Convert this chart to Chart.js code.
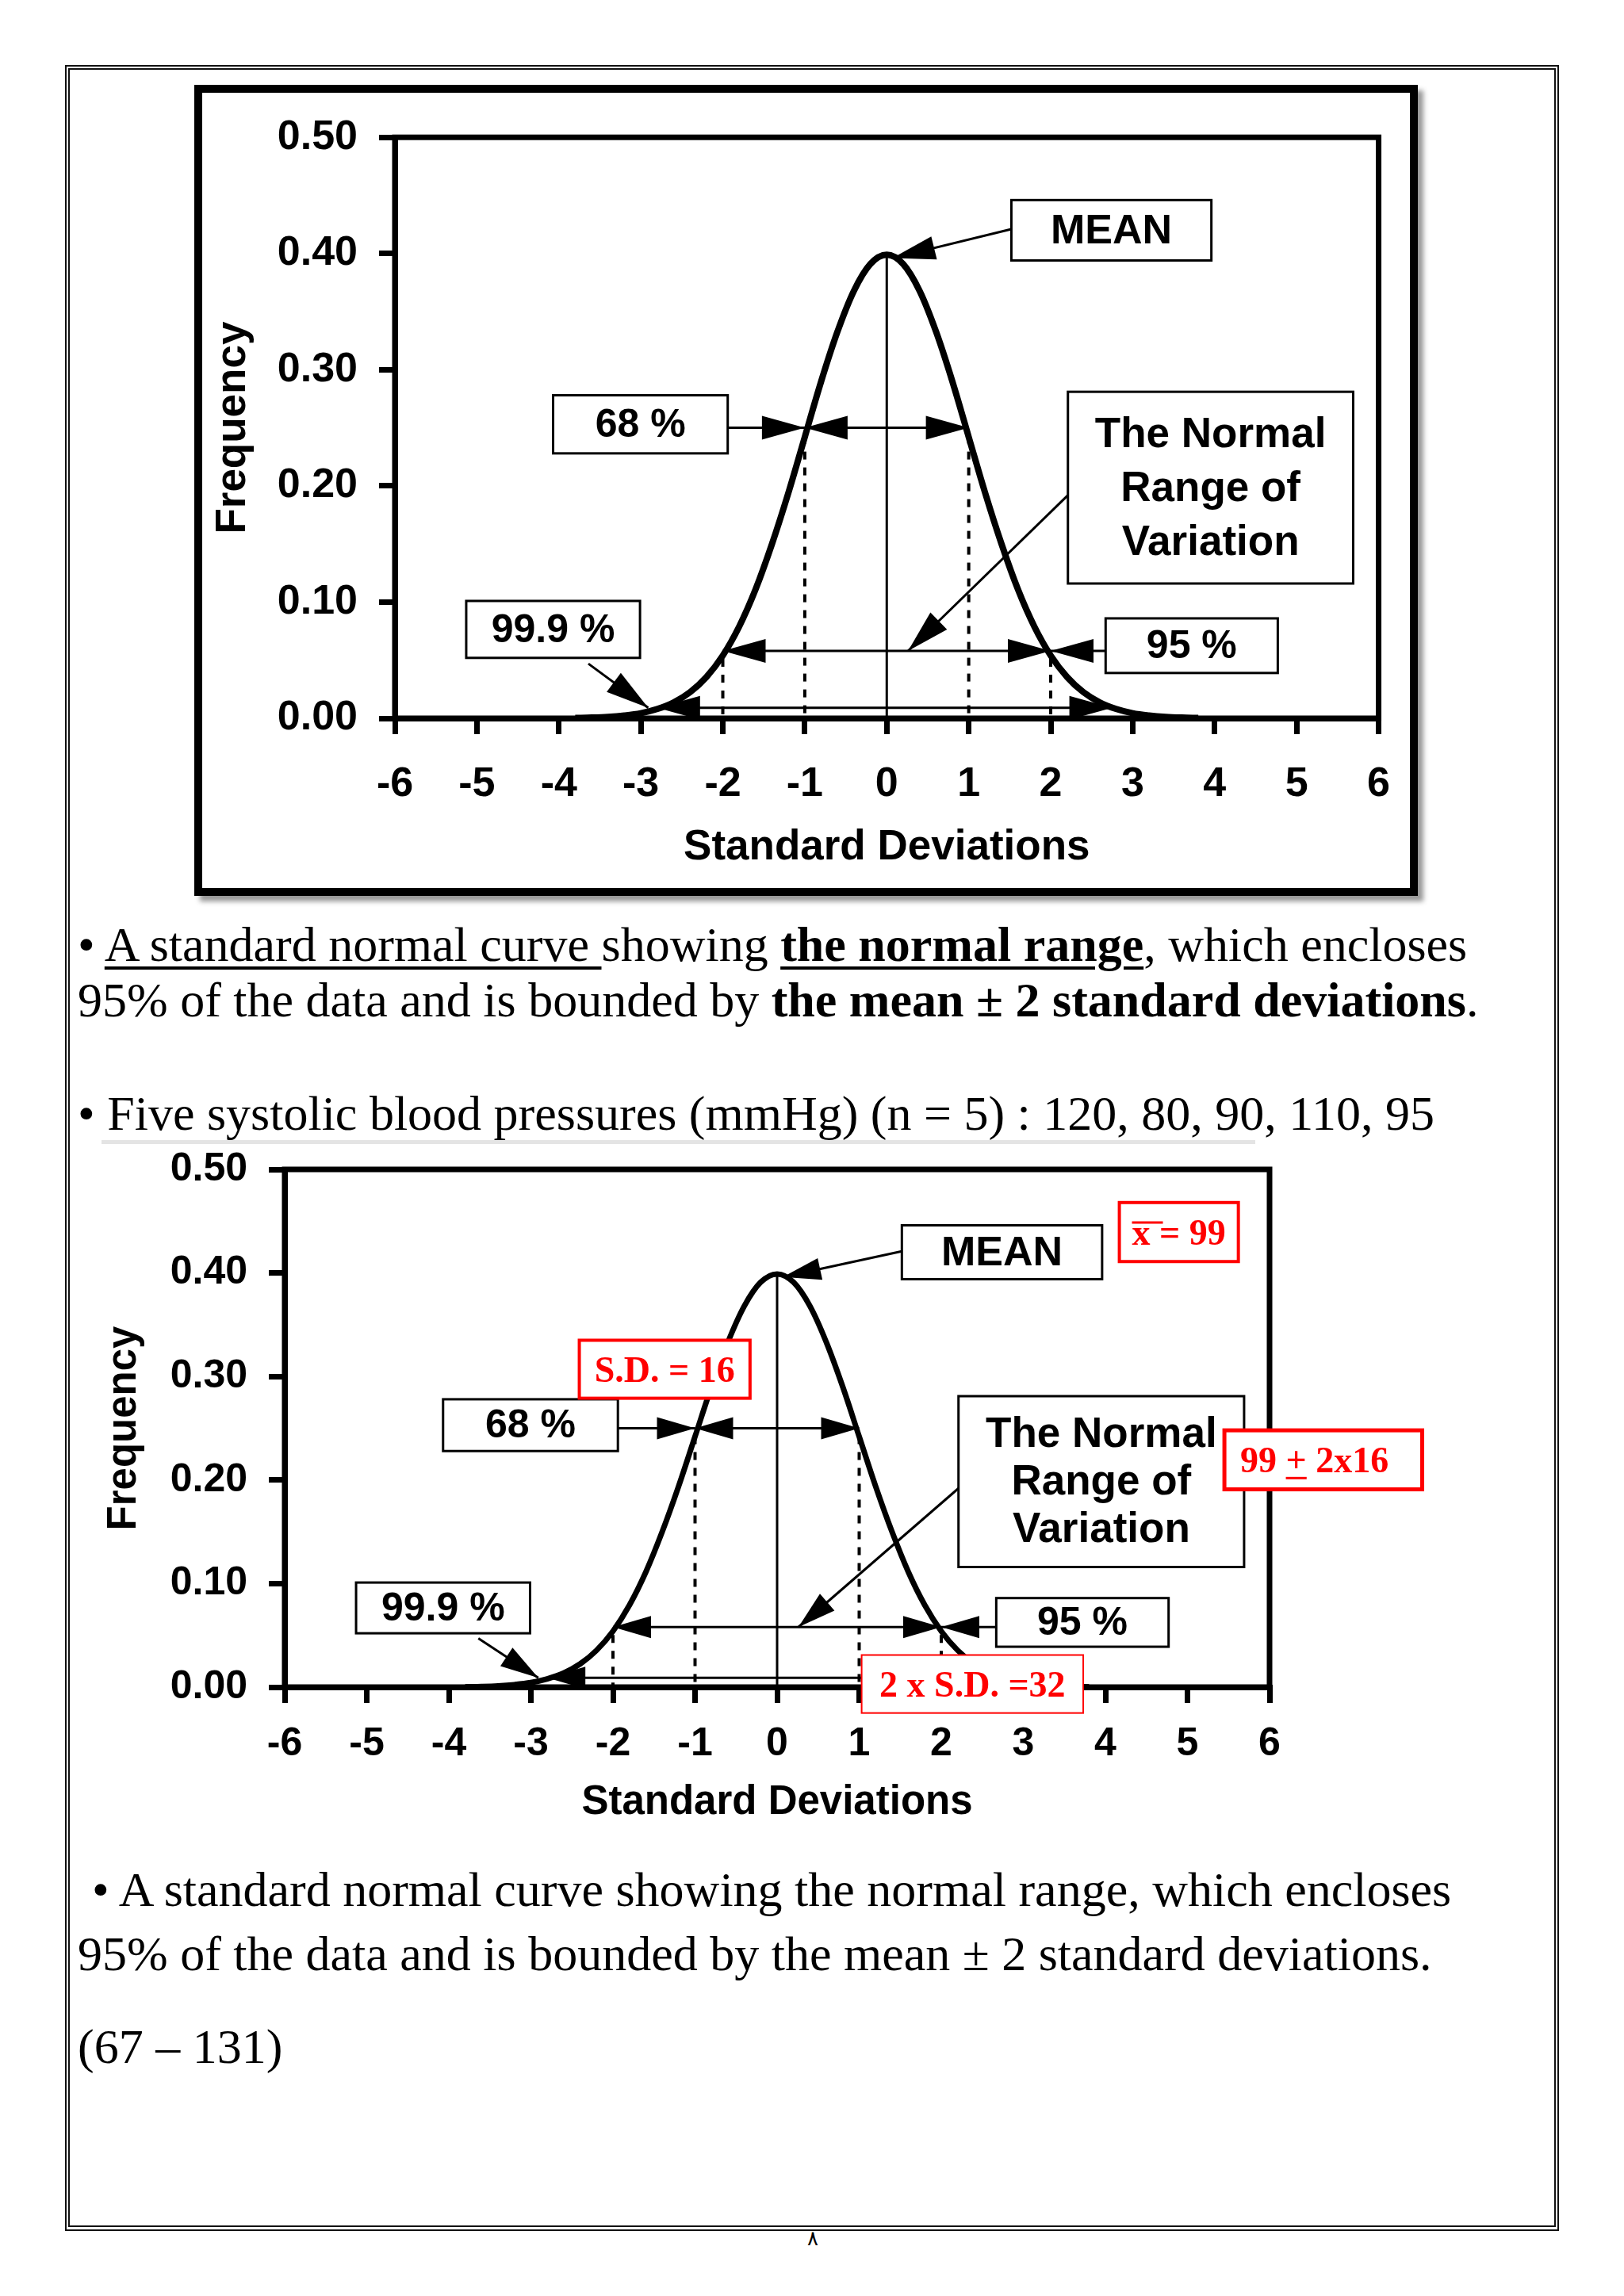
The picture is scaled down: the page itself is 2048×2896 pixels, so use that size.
<!DOCTYPE html>
<html>
<head>
<meta charset="utf-8">
<script src="https://cdn.jsdelivr.net/npm/chart.js@4.4.1/dist/chart.umd.min.js"></script>
<style>
  html, body { margin: 0; padding: 0; background: #fff; }
  body { width: 2048px; height: 2896px; position: relative; overflow: hidden; }
  .frame-outer { position: absolute; box-sizing: border-box; left: 82px; top: 82px; width: 1884px; height: 2732px; border: 2px solid #111; }
  .frame-inner { position: absolute; box-sizing: border-box; left: 86px; top: 86px; width: 1876px; height: 2723px; border: 2px solid #111; }
  .chart-box { position: absolute; box-sizing: border-box; left: 245px; top: 107px; width: 1543px; height: 1023px; border: 10px solid #000; box-shadow: 7px 7px 6px #999; background: #fff; }
  canvas { position: absolute; }
  .t { position: absolute; white-space: nowrap; font-family: "Liberation Serif", "Times New Roman", serif; font-size: 62px; line-height: 70px; color: #000; }
  .t u { text-decoration-thickness: 4px; text-underline-offset: 7px; }
  .rule { position: absolute; left: 128px; top: 1438px; width: 1455px; height: 5px; background: #e4e4e4; }
  .pg { position: absolute; left: 1010px; top: 2808px; width: 30px; text-align: center; font-family: "DejaVu Sans", sans-serif; font-size: 26px; }
</style>
</head>
<body>
<div class="frame-outer"></div>
<div class="frame-inner"></div>

<div class="chart-box"></div>
<canvas id="chart1" width="1530" height="1003" style="left:255px;top:115px"></canvas>

<div class="t" style="top:1156px;left:98px">• <u>A standard normal curve </u>showing <b><u>the normal range</u></b>, which encloses</div>
<div class="t" style="top:1226px;left:98px">95% of the data and is bounded by <b>the mean ± 2 standard deviations</b>.</div>
<div class="t" style="top:1369px;left:98px">• Five systolic blood pressures (mmHg) (n = 5) : 120, 80, 90, 110, 95</div>
<div class="rule"></div>

<canvas id="chart2" width="1710" height="900" style="left:120px;top:1418px"></canvas>

<div class="t" style="top:2348px;left:116px">• A standard normal curve showing the normal range, which encloses</div>
<div class="t" style="top:2429px;left:98px">95% of the data and is bounded by the mean ± 2 standard deviations.</div>
<div class="t" style="top:2546px;left:98px">(67 – 131)</div>
<div class="pg">٨</div>

<script>
// -------- DATA --------
const sdValues = [-3.8, -3.6, -3.4, -3.2, -3.0, -2.8, -2.6, -2.4, -2.2, -2.0, -1.8, -1.6, -1.4, -1.2, -1.0, -0.8, -0.6, -0.4, -0.2,
                  0, 0.2, 0.4, 0.6, 0.8, 1.0, 1.2, 1.4, 1.6, 1.8, 2.0, 2.2, 2.4, 2.6, 2.8, 3.0, 3.2, 3.4, 3.6, 3.8];
const freqValues = [0.0003, 0.0006, 0.0012, 0.0024, 0.0044, 0.008, 0.0136, 0.0224, 0.0355, 0.054, 0.079, 0.111, 0.150, 0.194, 0.242, 0.290, 0.333, 0.368, 0.391,
                    0.399, 0.391, 0.368, 0.333, 0.290, 0.242, 0.194, 0.150, 0.111, 0.079, 0.054, 0.0355, 0.0224, 0.0136, 0.008, 0.0044, 0.0024, 0.0012, 0.0006, 0.0003];
const xTickValues = [-6, -5, -4, -3, -2, -1, 0, 1, 2, 3, 4, 5, 6];
const yTickValues = [0, 0.1, 0.2, 0.3, 0.4, 0.5];

// heights of the marked ranges
const level68 = 0.25;
const level95 = 0.058;
const level999 = 0.009;
const range68 = [-1, 1];
const range95 = [-2, 2];
const range999 = [-2.8, 2.75];

// -------- ANNOTATIONS (data units) --------
const boxes = [
    { x1: 1.52, x2: 3.96, y1: 0.446, y2: 0.394, lines: ["MEAN"], font: 52 },
    { x1: -4.07, x2: -1.94, y1: 0.278, y2: 0.228, lines: ["68 %"], font: 50 },
    { x1: 2.21, x2: 5.69, y1: 0.281, y2: 0.116, lines: ["The Normal", "Range of", "Variation"], font: 53 },
    { x1: 2.67, x2: 4.77, y1: 0.086, y2: 0.039, lines: ["95 %"], font: 50 },
    { x1: -5.13, x2: -3.01, y1: 0.101, y2: 0.052, lines: ["99.9 %"], font: 50 }
];
const pointers = [
    { from: [1.52, 0.421], to: [0.07, 0.396] },
    { from: [-1.94, level68], to: [-1.0, level68] },
    { from: [2.21, 0.192], to: [0.26, level95] },
    { from: [2.67, level95], to: [2.0, level95] },
    { from: [-3.64, 0.047], to: [-2.91, level999] }
];
const redBoxes = [
    { x1: 4.17, x2: 5.62, y1: 0.468, y2: 0.411, text: "x = 99", bar: true, lw: 4 },
    { x1: -2.41, x2: -0.33, y1: 0.335, y2: 0.279, text: "S.D. = 16", lw: 4 },
    { x1: 5.45, x2: 7.86, y1: 0.248, y2: 0.191, text: "99 + 2x16", plusLine: true, lw: 5 },
    { x1: 1.03, x2: 3.73, y1: 0.031, y2: -0.025, text: "2 x S.D. =32", lw: 2 }
];

// -------- HELPERS --------
const SANS = '"Liberation Sans", Arial, sans-serif';
const SERIF = '"Liberation Serif", "Times New Roman", serif';

function head(ctx, x1, y1, x2, y2, len, half) {
    const a = Math.atan2(y2 - y1, x2 - x1);
    const bx = x2 - len * Math.cos(a), by = y2 - len * Math.sin(a);
    ctx.beginPath();
    ctx.moveTo(x2, y2);
    ctx.lineTo(bx + half * Math.sin(a), by - half * Math.cos(a));
    ctx.lineTo(bx - half * Math.sin(a), by + half * Math.cos(a));
    ctx.closePath();
    ctx.fill();
}

function arrow(ctx, p1, p2, both, size) {
    ctx.lineWidth = 3;
    ctx.beginPath();
    ctx.moveTo(p1[0], p1[1]);
    ctx.lineTo(p2[0], p2[1]);
    ctx.stroke();
    head(ctx, p1[0], p1[1], p2[0], p2[1], size[0], size[1]);
    if (both) head(ctx, p2[0], p2[1], p1[0], p1[1], size[0], size[1]);
}

const annotate = {
    id: "annotate",
    beforeDatasetsDraw(chart, args, opts) {
        const { ctx, chartArea: a } = chart;
        const sx = v => chart.scales.x.getPixelForValue(v);
        const sy = v => chart.scales.y.getPixelForValue(v);
        ctx.save();
        ctx.strokeStyle = "#000";
        ctx.lineWidth = 7;
        ctx.strokeRect(a.left, a.top, a.right - a.left, a.bottom - a.top);

        ctx.lineWidth = 3;
        ctx.beginPath();
        ctx.moveTo(sx(0), sy(0.4));
        ctx.lineTo(sx(0), sy(0));
        ctx.stroke();

        ctx.lineWidth = 4;
        ctx.setLineDash([10, 10]);
        [[range68, level68], [range95, level95]].forEach(([r, lv]) => {
            r.forEach(x => {
                ctx.beginPath();
                ctx.moveTo(sx(x), sy(lv) + 10);
                ctx.lineTo(sx(x), sy(0));
                ctx.stroke();
            });
        });
        ctx.restore();
    },
    afterDraw(chart, args, opts) {
        const { ctx } = chart;
        const sx = v => chart.scales.x.getPixelForValue(v);
        const sy = v => chart.scales.y.getPixelForValue(v);
        const p = xy => [sx(xy[0]), sy(xy[1])];
        const size = opts.head;
        ctx.save();
        ctx.strokeStyle = "#000";
        ctx.fillStyle = "#000";

        // double headed ranges
        arrow(ctx, p([range68[0], level68]), p([range68[1], level68]), true, size);
        arrow(ctx, p([range95[0], level95]), p([range95[1], level95]), true, size);
        arrow(ctx, p([range999[0], level999]), p([range999[1], level999]), true, size);

        pointers.forEach(pt => arrow(ctx, p(pt.from), p(pt.to), false, size));

        // labelled boxes
        boxes.forEach(b => {
            const x1 = sx(b.x1), x2 = sx(b.x2), y1 = sy(b.y1), y2 = sy(b.y2);
            ctx.fillStyle = "#fff";
            ctx.fillRect(x1, y1, x2 - x1, y2 - y1);
            ctx.lineWidth = 3;
            ctx.strokeRect(x1, y1, x2 - x1, y2 - y1);
            ctx.fillStyle = "#000";
            ctx.font = `bold ${b.font}px ${SANS}`;
            ctx.textAlign = "center";
            ctx.textBaseline = "middle";
            const n = b.lines.length, cy = (y1 + y2) / 2;
            b.lines.forEach((t, i) => ctx.fillText(t, (x1 + x2) / 2, cy + (i - (n - 1) / 2) * opts.gap + 2));
        });

        if (opts.red) {
            redBoxes.forEach(b => {
                const x1 = sx(b.x1), x2 = sx(b.x2), y1 = sy(b.y1), y2 = sy(b.y2);
                ctx.fillStyle = "#fff";
                ctx.fillRect(x1, y1, x2 - x1, y2 - y1);
                ctx.strokeStyle = "#ff0000";
                ctx.lineWidth = b.lw;
                ctx.strokeRect(x1, y1, x2 - x1, y2 - y1);
                ctx.fillStyle = "#ff0000";
                ctx.font = `bold 46px ${SERIF}`;
                ctx.textAlign = "left";
                ctx.textBaseline = "alphabetic";
                const w = ctx.measureText(b.text).width;
                const tx = b.plusLine ? x1 + 20 : (x1 + x2) / 2 - w / 2;
                const ty = (y1 + y2) / 2 + 16;
                ctx.fillText(b.text, tx, ty);
                ctx.lineWidth = 3;
                if (b.bar) {
                    const xw = ctx.measureText("x").width;
                    ctx.beginPath();
                    ctx.moveTo(tx, ty - 28);
                    ctx.lineTo(tx + xw + 16, ty - 28);
                    ctx.stroke();
                }
                if (b.plusLine) {
                    const pre = ctx.measureText("99 ").width;
                    const pw = ctx.measureText("+").width;
                    ctx.beginPath();
                    ctx.moveTo(tx + pre, ty + 7);
                    ctx.lineTo(tx + pre + pw, ty + 7);
                    ctx.stroke();
                }
                ctx.strokeStyle = "#000";
            });
        }
        ctx.restore();
    }
};

// -------- CHART --------
function normalChart(id, s) {
    return new Chart(document.getElementById(id), {
        type: "line",
        data: {
            datasets: [{
                data: sdValues.map((x, i) => ({ x: x, y: freqValues[i] })),
                borderColor: "#000",
                borderWidth: s.curve,
                pointRadius: 0,
                tension: 0.35,
                fill: false
            }]
        },
        options: {
            responsive: false,
            animation: false,
            devicePixelRatio: 1,
            layout: { padding: s.pad },
            plugins: {
                legend: { display: false },
                tooltip: { enabled: false },
                annotate: { head: s.head, gap: s.gap, red: s.red }
            },
            scales: {
                x: {
                    type: "linear",
                    min: -6,
                    max: 6,
                    afterBuildTicks: sc => { sc.ticks = xTickValues.map(v => ({ value: v })); },
                    afterFit: sc => { sc.height = s.xh; },
                    ticks: { color: "#000", font: { family: SANS, weight: "bold", size: s.font }, padding: s.xpad, callback: v => String(v) },
                    grid: { drawOnChartArea: false, drawTicks: true, tickLength: 20, lineWidth: 7, color: "#000" },
                    border: { display: true, width: 7, color: "#000" },
                    title: { display: true, text: "Standard Deviations", color: "#000", font: { family: SANS, weight: "bold", size: s.title }, padding: { top: 0, bottom: s.xtp } }
                },
                y: {
                    type: "linear",
                    min: 0,
                    max: 0.5,
                    afterBuildTicks: sc => { sc.ticks = yTickValues.map(v => ({ value: v })); },
                    afterFit: sc => { sc.width = s.yw; },
                    ticks: { color: "#000", font: { family: SANS, weight: "bold", size: s.font }, padding: 27, callback: v => v.toFixed(2) },
                    grid: { drawOnChartArea: false, drawTicks: true, tickLength: 20, lineWidth: 7, color: "#000" },
                    border: { display: true, width: 7, color: "#000" },
                    title: { display: true, text: "Frequency", color: "#000", font: { family: SANS, weight: "bold", size: s.title }, padding: { top: s.ytp, bottom: 0 } }
                }
            }
        },
        plugins: [annotate]
    });
}

normalChart("chart1", {
    pad: { left: 0, top: 46, right: 32, bottom: 0 },
    yw: 243, xh: 212, font: 52, title: 53, xpad: 32, xtp: 17, ytp: 8,
    curve: 8, head: [54, 15], gap: 68, red: false
});

normalChart("chart2", {
    pad: { left: 0, top: 48, right: 229, bottom: 0 },
    yw: 239, xh: 190, font: 50, title: 51, xpad: 22, xtp: 13, ytp: 6,
    curve: 7, head: [48, 14], gap: 60, red: true
});
</script>
</body>
</html>
